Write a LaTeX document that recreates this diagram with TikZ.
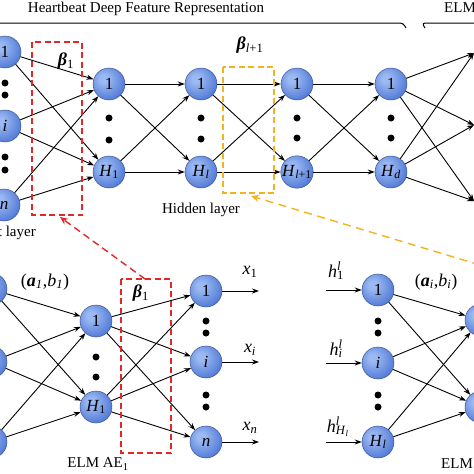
\documentclass[tikz,border=0pt]{standalone}
\usepackage{fontspec}
\setmainfont{Liberation Serif}
\usetikzlibrary{arrows.meta}
\definecolor{sphhi}{RGB}{155,185,242}
\definecolor{sphmid}{RGB}{85,125,215}
\definecolor{sphlo}{RGB}{45,75,170}
\definecolor{nodeedge}{RGB}{45,70,140}
\definecolor{boxred}{RGB}{225,40,40}
\definecolor{boxyel}{RGB}{242,180,30}
\pgfdeclareradialshading{sphere}{\pgfpoint{-9bp}{9bp}}{color(0bp)=(sphhi); color(6bp)=(sphhi); color(30bp)=(sphmid); color(52bp)=(sphlo); color(70bp)=(sphlo)}
\newcommand{\vsb}[1]{\textsubscript{#1}}
\newcommand{\supsb}[2]{\rlap{\textsuperscript{#1}}\textsubscript{#2}}
\newcommand{\bfi}[1]{\textbf{\textit{#1}}}
\begin{document}
\begin{tikzpicture}[x=1pt,y=-1pt,
 neuron/.style={circle, minimum size=32pt, inner sep=0pt, shading=sphere, draw=nodeedge, line width=0.4pt, font=\fontsize{17}{17}\selectfont},
 dotn/.style={circle, fill=black, minimum size=7pt, inner sep=0pt},
 conn/.style={-{Stealth[length=7pt,width=5pt]}, line width=0.9pt},
 lbl/.style={font=\fontsize{15}{15}\selectfont, inner sep=0pt},
 mlbl/.style={font=\fontsize{18}{18}\selectfont, inner sep=0pt},
 redbox/.style={draw=boxred, line width=1.4pt, dash pattern=on 6pt off 3.5pt},
 yelbox/.style={draw=boxyel, line width=1.4pt, dash pattern=on 6pt off 3.5pt},
 brace/.style={line width=1pt, rounded corners=3pt}]
\useasboundingbox (0,0) rectangle (474,474);
\clip (0,0) rectangle (474,474);
\fill[white] (0,0) rectangle (474,474);

% ---------- titles and braces ----------
\node[lbl, anchor=base] (title) at (146,12) {Heartbeat Deep Feature Representation};
\node[lbl, anchor=base west] (elmt) at (444,12) {ELM};
\draw[brace] (-10,23) -- (403,23) -- (406,28);
\draw[brace] (425,28) -- (422,23) -- (490,23);

% ---------- top network ----------
\node[neuron] (t01) at (5,52) {1};
\node[neuron] (t0i) at (5,126) {\textit{i}};
\node[neuron] (t0n) at (4,205) {\textit{n}};
\node[neuron] (t11) at (109,84) {1};
\node[neuron] (t1H) at (109,172) {\textit{H}\vsb{1}};
\node[neuron] (t21) at (201,84) {1};
\node[neuron] (t2H) at (201,172) {\textit{H}\vsb{\textit{l}}};
\node[neuron] (t31) at (297,84) {1};
\node[neuron] (t3H) at (297,172) {\textit{H}\vsb{\textit{l}+1}};
\node[neuron] (t41) at (391,84) {1};
\node[neuron] (t4H) at (391,172) {\textit{H}\vsb{\textit{d}}};
\coordinate (to1) at (474,53);
\coordinate (to2) at (474,125);
\coordinate (to3) at (474,201);

\foreach \x/\y in {5/83,5/95,5/157,5/170,109/118,109/140,201/118,201/139,297/118,297/138,391/118,391/138}
  \node[dotn] at (\x,\y) {};

\foreach \s in {t01,t0i,t0n} \foreach \t in {t11,t1H} \draw[conn] (\s) -- (\t);
\foreach \s in {t11,t1H} \foreach \t in {t21,t2H} \draw[conn] (\s) -- (\t);
\foreach \s in {t21,t2H} \foreach \t in {t31,t3H} \draw[conn] (\s) -- (\t);
\foreach \s in {t31,t3H} \foreach \t in {t41,t4H} \draw[conn] (\s) -- (\t);
\foreach \s in {t41,t4H} \foreach \t in {to1,to2,to3} \draw[conn] (\s) -- (\t);

\draw[redbox] (32,42) rectangle (82,215);
\node[mlbl] (b1t) at (66,61) {\bfi{β}\vsb{1}};
\draw[yelbox] (223,67) rectangle (274,193);
\node[mlbl] (bl1) at (250,45) {\bfi{β}\vsb{\textit{l}+1}};
\node[lbl] (hid) at (201,210) {Hidden layer};
\node[lbl, anchor=east] (inl) at (36,233) {Input layer};

% ---------- bottom left: ELM AE_1 ----------
\node[neuron] (l01) at (-9,289) {};
\node[neuron] (l02) at (-9,362) {};
\node[neuron] (l03) at (-9,442) {};
\node[neuron] (l11) at (96,321) {1};
\node[neuron] (l1H) at (96,407) {\textit{H}\vsb{1}};
\node[neuron] (l21) at (206,291) {1};
\node[neuron] (l2i) at (206,362) {\textit{i}};
\node[neuron] (l2n) at (206,442) {\textit{n}};
\foreach \x/\y in {96/357,96/377,206/321,206/333,206/395,206/407}
  \node[dotn] at (\x,\y) {};
\foreach \s in {l01,l02,l03} \foreach \t in {l11,l1H} \draw[conn] (\s) -- (\t);
\foreach \s in {l11,l1H} \foreach \t in {l21,l2i,l2n} \draw[conn] (\s) -- (\t);
\coordinate (x1e) at (259,291);
\coordinate (xie) at (259,362);
\coordinate (xne) at (259,442);
\draw[conn] (l21) -- (x1e);
\draw[conn] (l2i) -- (xie);
\draw[conn] (l2n) -- (xne);
\node[mlbl] (x1) at (250,272) {\textit{x}\vsb{1}};
\node[mlbl] (xi) at (250,350) {\textit{x}\vsb{\textit{i}}};
\node[mlbl] (xn) at (250,428) {\textit{x}\vsb{\textit{n}}};
\draw[redbox] (121,279) rectangle (171,453);
\node[mlbl] (b1b) at (141,293) {\bfi{β}\vsb{1}};
\node[mlbl] (ab1) at (45,282) {(\bfi{a}\vsb{\textit{1}},\textit{b}\vsb{\textit{1}})};
\node[lbl] (ae1) at (98,464) {ELM AE\vsb{1}};

% ---------- bottom right: ELM AE_l ----------
\node[neuron] (r01) at (378,290) {1};
\node[neuron] (r0i) at (378,363) {\textit{i}};
\node[neuron] (r0H) at (378,442) {\textit{H}\vsb{\textit{l}}};
\node[neuron] (r11) at (481,320) {};
\node[neuron] (r12) at (481,407) {};
\foreach \x/\y in {378/321,378/333,378/395,378/407}
  \node[dotn] at (\x,\y) {};
\coordinate (h1s) at (326,290);
\coordinate (his) at (326,363);
\coordinate (hHs) at (326,442);
\draw[conn] (h1s) -- (r01);
\draw[conn] (his) -- (r0i);
\draw[conn] (hHs) -- (r0H);
\node[mlbl] (h1) at (336,271) {\textit{h}\supsb{\textit{l}}{1}};
\node[mlbl] (hi) at (336,349) {\textit{h}\supsb{\textit{l}}{\textit{i}}};
\node[mlbl] (hH) at (338,427) {\textit{h}\supsb{\textit{l}}{\textit{H}\vsb{\textit{l}}}};
\foreach \s in {r01,r0i,r0H} \foreach \t in {r11,r12} \draw[conn] (\s) -- (\t);
\node[mlbl] (abi) at (436,282) {(\bfi{a}\vsb{\textit{i}},\textit{b}\vsb{\textit{i}})};
\node[lbl, anchor=west] (ael) at (441,464) {ELM};

% ---------- linking dashed arrows ----------
\coordinate (rs) at (145,279);
\coordinate (re) at (60,217);
\draw[boxred, line width=1.4pt, dash pattern=on 7pt off 4.5pt, -{Stealth[length=8pt,width=7pt]}] (rs) -- (re);
\coordinate (ys) at (480,265);
\coordinate (ye) at (251,196);
\draw[boxyel, line width=1.4pt, dash pattern=on 8pt off 5.5pt, -{Stealth[length=8pt,width=7pt]}] (ys) -- (ye);
\end{tikzpicture}
\end{document}
